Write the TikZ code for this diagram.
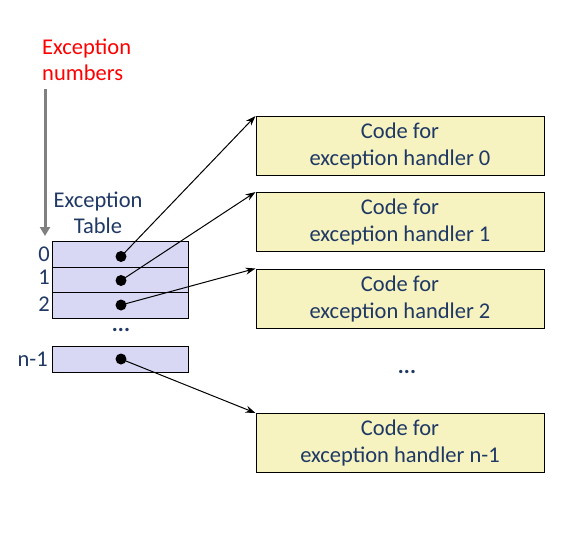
\documentclass[tikz,border=0pt]{standalone}
\usepackage{fontspec}
\setmainfont{Carlito}
\usepackage{tikz}
\usetikzlibrary{arrows.meta}

\definecolor{txtblue}{RGB}{31,56,100}
\definecolor{rowfill}{RGB}{216,216,244}
\definecolor{codefill}{RGB}{246,243,193}
\definecolor{numred}{RGB}{255,0,0}

\tikzset{
  entry/.style={draw, line width=1pt, fill=rowfill, minimum width=136pt, minimum height=25.5pt, inner sep=0pt},
  handler/.style={draw, line width=1pt, fill=codefill, minimum width=288pt, minimum height=59pt, inner sep=0pt,
    align=center, text=txtblue, font=\fontsize{22.5}{27}\selectfont},
  ptr/.style={circle, fill=black, minimum size=11pt, inner sep=0pt},
  lbl/.style={text=txtblue, font=\fontsize{22.5}{26}\selectfont, inner sep=0pt},
  link/.style={-{Stealth[length=10pt,width=7pt]}, line width=1pt}
}

\begin{document}
\begin{tikzpicture}[x=1pt, y=-1pt]
            \useasboundingbox (0,0) rectangle (565,544);

            % exception numbers
            \node [lbl, text=numred, align=left, anchor=west] (nums) at (42,60) {Exception\\numbers};
            \coordinate (top) at (45,89);
            \coordinate (bot) at (45,236);
            \draw [-{Triangle[length=9pt,width=10pt]}, line width=3pt, gray] (top) -- (bot);

            % the table
            \node [lbl, align=center] (title) at (98,213) {Exception\\Table};
            \node [entry] (e0) at (120.5,254.5) {};
            \node [entry] (e1) at (120.5,280) {};
            \node [entry] (e2) at (120.5,305.3) {};
            \node [lbl] (more) at (121,330) {\textbf{...}};
            \node [entry] (en) at (120.5,359.7) {};

            \node [lbl, anchor=east] (n0) at (50,254) {0};
            \node [lbl, anchor=east] (n1) at (50,277) {1};
            \node [lbl, anchor=east] (n2) at (50,304) {2};
            \node [lbl, anchor=east] (nn) at (48,359) {n-1};

            \node [ptr] (p0) at (121,256.5) {};
            \node [ptr] (p1) at (121,280.5) {};
            \node [ptr] (p2) at (121,305) {};
            \node [ptr] (pn) at (121,359) {};

            % the handlers
            \node [handler] (h0) at (400,146) {Code for\\exception handler 0};
            \node [handler] (h1) at (400,222) {Code for\\exception handler 1};
            \node [handler] (h2) at (400,298.5) {Code for\\exception handler 2};
            \node [lbl] (hmore) at (407,372) {\textbf{...}};
            \node [handler] (hn) at (400,443) {Code for\\exception handler n-1};

            \draw [link] (p0.center) -- (h0.north west);
            \draw [link] (p1.center) -- (h1.north west);
            \draw [link] (p2.center) -- (h2.north west);
            \draw [link] (pn.center) -- (hn.north west);
        \end{tikzpicture}
\end{document}
